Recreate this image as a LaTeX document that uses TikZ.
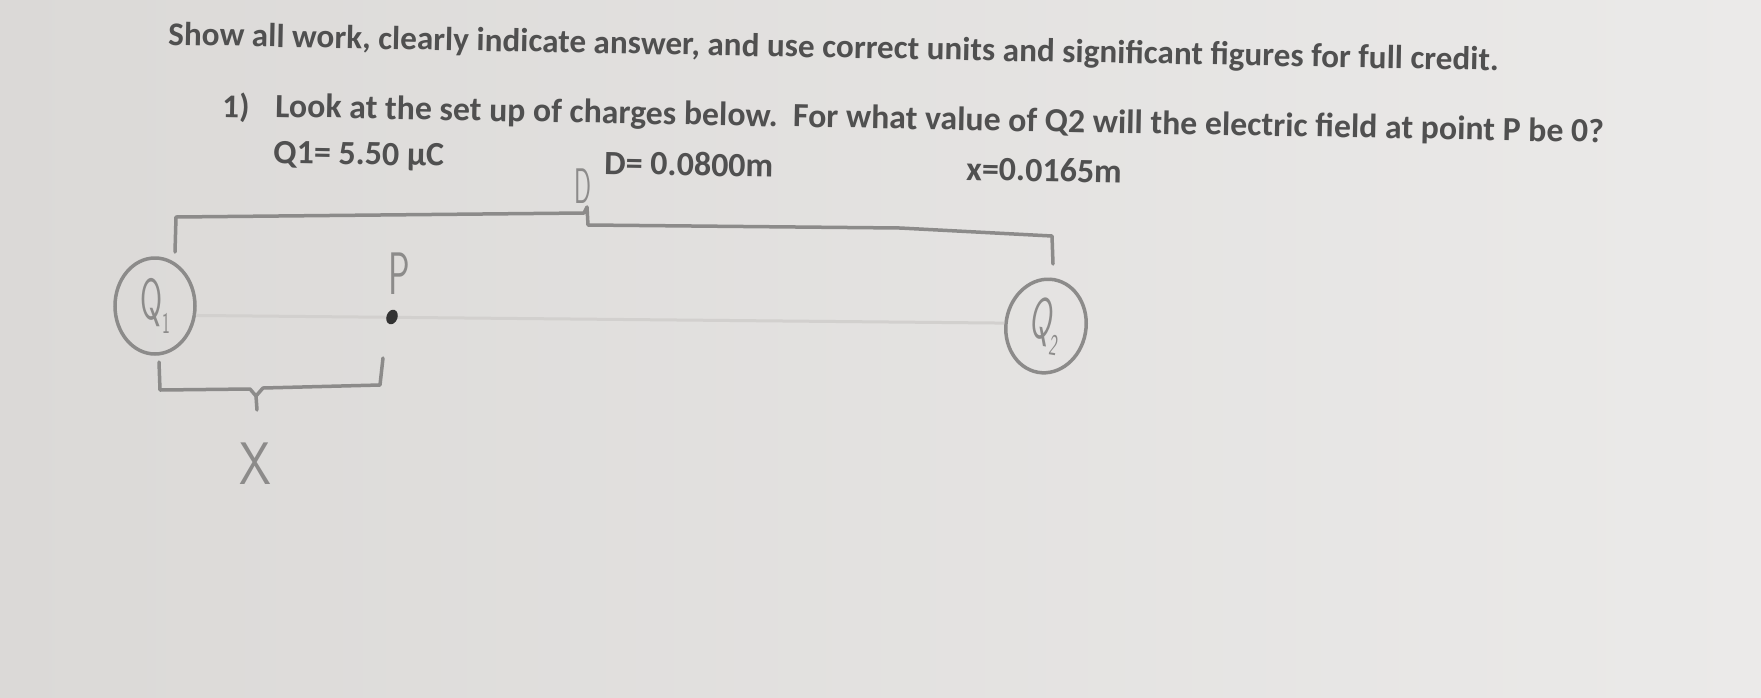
\documentclass[tikz,border=0pt]{standalone}
\usepackage{fontspec}
\setmainfont{Carlito}
\usetikzlibrary{shapes.geometric}
\definecolor{paperL}{HTML}{DBD9D7}
\definecolor{paperR}{HTML}{EBEAE9}
\definecolor{ink}{HTML}{505050}
\definecolor{pencil}{HTML}{8C8B8A}
\definecolor{axisgray}{HTML}{D2D0CE}
\begin{document}
\begin{tikzpicture}[x=1pt,y=-1pt,
  printed/.style={anchor=base west, inner sep=0pt, text=ink, font=\fontsize{33.2}{33}\selectfont\bfseries, rotate=-1.1},
  valuetext/.style={printed, font=\fontsize{34}{34}\selectfont\bfseries},
  pencilline/.style={draw=pencil, line width=3.5pt, line cap=round, line join=round},
  hand/.style={text=pencil, inner sep=0pt},
  charge/.style={ellipse, draw=pencil, line width=3.5pt, inner sep=0pt, text=pencil, font=\sffamily\fontsize{58}{58}\selectfont}
]
\fill[left color=paperL, right color=paperR] (0,0) rectangle (1761,697);
\useasboundingbox (0,0) rectangle (1761,697);

% printed text
\node[printed] (head) at (168,45) {Show all work, clearly indicate answer, and use correct units and significant figures for full credit.};
\node[printed] (num) at (222,117) {1)};
\node[printed, font=\fontsize{33.8}{33}\selectfont\bfseries] (quest) at (275,117) {Look at the set up of charges below.\ \ For what value of Q2 will the electric field at point P be 0?};
\node[valuetext] (q1val) at (273,163) {Q1= 5.50 µC};
\node[valuetext] (dval) at (604,174) {D= 0.0800m};
\node[valuetext] (xval) at (966,180) {x=0.0165m};

% charges
\node[charge, minimum width=80pt, minimum height=96pt] (q1) at (155,306) {\scalebox{0.55}[1]{Q\raisebox{-0.25em}{\fontsize{30}{30}\selectfont 1}}};
\node[charge, minimum width=80pt, minimum height=94pt, rotate=-10] (q2) at (1046,326) {\scalebox{0.55}[1]{Q\raisebox{-0.25em}{\fontsize{30}{30}\selectfont 2}}};
\draw[axisgray, line width=3pt] (q1.-13) -- (q2.186);

% point P
\node[ellipse, fill=black!80, minimum width=11pt, minimum height=15pt, inner sep=0pt, rotate=-20] (p) at (392,317) {};
\node[hand, font=\sffamily\fontsize{60}{60}\selectfont] (plabel) at (399,274) {\scalebox{0.6}[1]{P}};

% bracket D
\node[hand, font=\sffamily\fontsize{50}{50}\selectfont] (dlabel) at (583,186) {\scalebox{0.5}[1]{D}};
\draw[pencilline] (175,252) -- (176,217) -- (584,213) -- (587,207) -- (588,225) -- (900,228) -- (1052,236) -- (1053,264);

% bracket x
\draw[pencilline] (159,362) -- (160,390) -- (250,389) -- (256,396) -- (263,388) -- (380,385) -- (383,358);
\draw[pencilline] (256,396) -- (257,410);
\node[hand, font=\sffamily\fontsize{60}{60}\selectfont] (xlabel) at (255,464) {\scalebox{0.85}[1]{X}};
\end{tikzpicture}
\end{document}
